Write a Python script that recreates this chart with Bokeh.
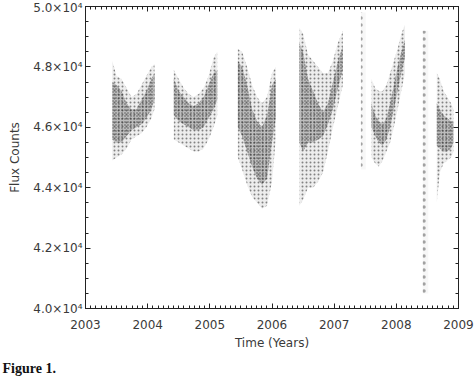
from bokeh.plotting import figure
from bokeh.models import (Range1d, SingleIntervalTicker, LinearAxis, CustomJSTickFormatter, Title)
from bokeh.embed import file_html
from bokeh.resources import INLINE

# ---- data (flux counts, envelope of the scatter per time bin) ----
s1_year    = [2003.43, 2003.50, 2003.58, 2003.66, 2003.74, 2003.82, 2003.90, 2003.98, 2004.06, 2004.11]
s1_out_hi  = [48200, 47700, 47600, 47300, 47000, 47100, 47400, 47700, 48000, 48100]
s1_out_lo  = [44900, 45000, 45100, 45300, 45600, 45700, 45800, 46000, 46300, 46600]
s1_core_hi = [47500, 47400, 47200, 46800, 46600, 46600, 46900, 47200, 47600, 47800]
s1_core_lo = [45600, 45500, 45500, 45700, 45900, 46000, 46100, 46300, 46600, 46900]

s2_year    = [2004.42, 2004.50, 2004.58, 2004.66, 2004.74, 2004.82, 2004.90, 2004.98, 2005.06, 2005.12]
s2_out_hi  = [47900, 47600, 47300, 47100, 47000, 47100, 47300, 47700, 48300, 48500]
s2_out_lo  = [45600, 45500, 45400, 45300, 45200, 45200, 45300, 45600, 46000, 46400]
s2_core_hi = [47600, 47200, 47000, 46800, 46700, 46800, 47000, 47400, 47800, 47900]
s2_core_lo = [46400, 46200, 46100, 46000, 45900, 45900, 46000, 46300, 46600, 46900]

s3_year    = [2005.45, 2005.52, 2005.60, 2005.68, 2005.76, 2005.84, 2005.92, 2006.00, 2006.06]
s3_out_hi  = [48600, 48500, 48000, 47400, 47000, 46800, 47000, 47800, 48000]
s3_out_lo  = [45000, 44600, 44100, 43700, 43500, 43300, 43400, 44200, 45600]
s3_core_hi = [48200, 48000, 47400, 46600, 46200, 46000, 46400, 47400, 47600]
s3_core_lo = [46000, 45700, 45200, 44700, 44300, 44100, 44300, 45500, 46300]

s4_year    = [2006.44, 2006.50, 2006.58, 2006.66, 2006.74, 2006.82, 2006.90, 2006.98, 2007.06, 2007.14]
s4_out_hi  = [49300, 49100, 48400, 48200, 48000, 47800, 47800, 48200, 48800, 49200]
s4_out_lo  = [43400, 43600, 44000, 44000, 44200, 44500, 45200, 46000, 46700, 47400]
s4_core_hi = [48800, 48500, 47600, 47200, 46800, 46500, 46800, 47500, 48200, 48700]
s4_core_lo = [45500, 45200, 45500, 45500, 45600, 45700, 46100, 46600, 47300, 47900]

s5_year    = [2007.60, 2007.66, 2007.72, 2007.78, 2007.84, 2007.90, 2007.96, 2008.02, 2008.08, 2008.14]
s5_out_hi  = [47600, 47300, 47200, 47200, 47400, 47800, 48200, 48600, 49100, 49400]
s5_out_lo  = [45000, 44800, 44700, 44900, 45200, 45500, 46000, 46600, 47200, 47800]
s5_core_hi = [46800, 46400, 46200, 46100, 46300, 46800, 47400, 48000, 48500, 48900]
s5_core_lo = [46000, 45700, 45500, 45400, 45600, 46000, 46600, 47200, 47800, 48300]

s6_year    = [2008.65, 2008.70, 2008.76, 2008.82, 2008.88, 2008.92]
s6_out_hi  = [47800, 47600, 47200, 47000, 46800, 46600]
s6_out_lo  = [43500, 44500, 44800, 44900, 45000, 45200]
s6_core_hi = [46800, 46600, 46400, 46300, 46200, 46200]
s6_core_lo = [45400, 45300, 45200, 45200, 45300, 45500]

# sparse vertical columns of scattered points
sp_year    = [2007.47, 2008.47]
sp_half_w  = [0.04, 0.045]
sp_lo      = [44600, 40500]
sp_hi      = [49800, 49200]

year_ticks_start = 2003
year_ticks_end = 2009
flux_min = 40000
flux_max = 50000

seasons = [
    (s1_year, s1_out_lo, s1_out_hi, s1_core_lo, s1_core_hi),
    (s2_year, s2_out_lo, s2_out_hi, s2_core_lo, s2_core_hi),
    (s3_year, s3_out_lo, s3_out_hi, s3_core_lo, s3_core_hi),
    (s4_year, s4_out_lo, s4_out_hi, s4_core_lo, s4_core_hi),
    (s5_year, s5_out_lo, s5_out_hi, s5_core_lo, s5_core_hi),
    (s6_year, s6_out_lo, s6_out_hi, s6_core_lo, s6_core_hi),
]

p = figure(width=474, height=384, output_backend="svg", toolbar_location=None,
           x_range=Range1d(year_ticks_start, year_ticks_end),
           y_range=Range1d(flux_min, flux_max),
           min_border_left=85, min_border_right=16, min_border_top=6, min_border_bottom=76)
p.grid.visible = False
p.outline_line_color = "#222222"
p.outline_line_width = 1
p.background_fill_color = "white"
p.border_fill_color = "white"

for yr, olo, ohi, clo, chi in seasons:
    p.varea(x=yr, y1=olo, y2=ohi, fill_color="black", fill_alpha=0.07,
            hatch_pattern=".", hatch_color="black", hatch_alpha=0.45, hatch_scale=4, hatch_weight=1)
    p.varea(x=yr, y1=clo, y2=chi, fill_color="black", fill_alpha=0.2,
            hatch_pattern=".", hatch_color="black", hatch_alpha=0.55, hatch_scale=3, hatch_weight=1)

for x, w, lo, hi in zip(sp_year, sp_half_w, sp_lo, sp_hi):
    p.varea(x=[x - w, x + w], y1=[lo, lo], y2=[hi, hi], fill_color="black", fill_alpha=0.03,
            hatch_pattern=".", hatch_color="black", hatch_alpha=0.35, hatch_scale=7, hatch_weight=1)

font = "DejaVu Sans"
xt = SingleIntervalTicker(interval=1, num_minor_ticks=12)
yt = SingleIntervalTicker(interval=2000, num_minor_ticks=4)

xa = p.xaxis[0]
xa.ticker = xt
ya = p.yaxis[0]
ya.ticker = yt
ya.formatter = CustomJSTickFormatter(code="return (tick/10000).toFixed(1) + '\u00d710\u2074';")

for ax in (xa, ya):
    ax.major_tick_in = 5
    ax.major_tick_out = 0
    ax.minor_tick_in = 3
    ax.minor_tick_out = 0
    ax.axis_line_color = "#222222"
    ax.major_tick_line_color = "#222222"
    ax.minor_tick_line_color = "#222222"
    ax.major_label_text_font = font
    ax.major_label_text_font_size = "12px"
    ax.major_label_text_color = "#3a3a3a"
    ax.axis_label_text_font = font
    ax.axis_label_text_font_size = "12px"
    ax.axis_label_text_color = "#3a3a3a"
    ax.axis_label_text_font_style = "normal"

xa.axis_label = "Time (Years)"
xa.major_label_standoff = 11
xa.axis_label_standoff = 4
ya.axis_label = "Flux Counts"
ya.major_label_standoff = 3
ya.axis_label_standoff = 8

for loc, tk in (("above", xt), ("right", yt)):
    ax = LinearAxis(ticker=tk, major_label_text_font_size="0px", major_label_text_alpha=0,
                    major_tick_in=5, major_tick_out=0, minor_tick_in=3, minor_tick_out=0,
                    axis_line_color="#222222", major_tick_line_color="#222222",
                    minor_tick_line_color="#222222", major_label_standoff=0)
    p.add_layout(ax, loc)

p.add_layout(Title(text="Figure 1.", align="left", offset=-83, standoff=13,
                   text_font="Liberation Serif", text_font_style="bold", text_font_size="14px",
                   text_color="#111111"), "below")

open("out.html", "w").write(file_html(p, INLINE))
